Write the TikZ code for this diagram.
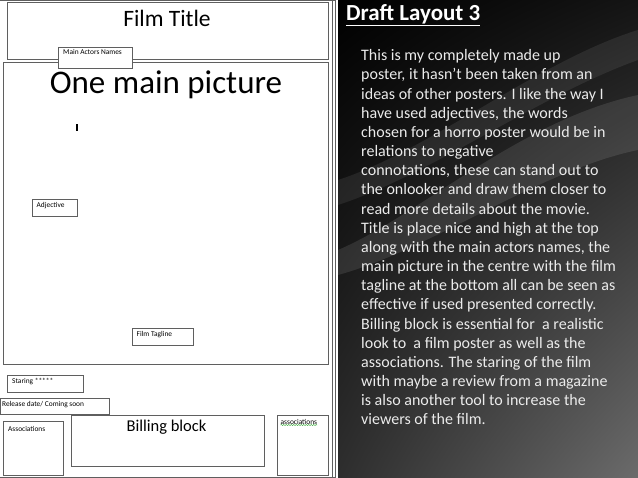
\documentclass[tikz,border=0pt]{standalone}
\usepackage{fontspec}
\setmainfont{Carlito}
\usetikzlibrary{shadings,decorations.pathmorphing}
\definecolor{boxgray}{RGB}{95,95,95}
\definecolor{squiggle}{RGB}{60,170,60}
\begin{document}
\begin{tikzpicture}[x=1pt,y=-1pt]
        \tikzstyle{blk} = [draw=boxgray, line width=0.9pt, fill=white, rectangle, inner sep=0pt]
        \tikzstyle{tiny} = [anchor=north west, inner sep=0pt, font=\fontsize{7.4}{8}\selectfont]
        \tikzstyle{body} = [anchor=north west, inner sep=0pt, align=left, text=white!92!black,
            font=\fontsize{16}{19.16}\selectfont]
        \useasboundingbox (0,0) rectangle (638,478);

        % backgrounds
        \fill[white] (0,0) rectangle (338,478);
        \shade[upper left=black, upper right=black!92, lower left=black!82, lower right=black!58]
            (338,0) rectangle (638,478);
        \fill[white, opacity=0.10] (338,250) .. controls (420,215) and (520,120) .. (638,95)
            -- (638,150) .. controls (540,170) and (430,250) .. (338,275) -- cycle;
        \fill[white, opacity=0.08] (338,180) .. controls (430,150) and (540,60) .. (638,30)
            -- (638,60) .. controls (540,95) and (430,175) .. (338,205) -- cycle;
        \draw[boxgray, line width=0.8pt] (0,0.5) -- (335.5,0.5);
        \draw[boxgray, line width=0.8pt] (332.5,0) -- (332.5,478);
        \draw[boxgray, line width=0.8pt] (335.5,0) -- (335.5,478);
        \draw[boxgray, line width=0.8pt] (0,477) -- (335.5,477);

        % poster layout
        \node[blk, minimum width=321pt, minimum height=57pt] (title) at (167.5,30.5) {};
        \node[font=\fontsize{23.5}{27}\selectfont] (titletxt) at (167,18.5) {Film Title};
        \node[blk, minimum width=325pt, minimum height=302pt] (picture) at (165.5,213) {};
        \node[font=\fontsize{33}{38}\selectfont] (picturetxt) at (166,85) {One main picture};
        \draw[black, line width=1.2pt] (77,124.5) -- (77,131.5);
        \node[blk, minimum width=74pt, minimum height=21pt] (actors) at (95,57.5) {};
        \node[tiny] (actorstxt) at (63,49.5) {Main Actors Names};
        \node[blk, minimum width=45pt, minimum height=17pt] (adjective) at (54.5,207.5) {};
        \node[tiny] (adjectivetxt) at (36.5,202) {Adjective};
        \node[blk, minimum width=61pt, minimum height=17pt] (tagline) at (162.5,336.5) {};
        \node[tiny] (taglinetxt) at (136.5,331) {Film Tagline};
        \node[blk, minimum width=76pt, minimum height=17pt] (staring) at (45,383.5) {};
        \node[tiny] (staringtxt) at (12,378.5) {Staring *****};
        \node[blk, minimum width=109pt, minimum height=16pt] (release) at (54.5,406) {};
        \node[tiny] (releasetxt) at (2,401) {Release date/ Coming soon};
        \node[blk, minimum width=60pt, minimum height=54pt] (assocleft) at (33,448) {};
        \node[tiny] (assoclefttxt) at (8,426) {Associations};
        \node[blk, minimum width=193pt, minimum height=51pt] (billing) at (167.5,440.5) {};
        \node[font=\fontsize{16.5}{20}\selectfont] (billingtxt) at (166.5,427) {Billing block};
        \node[blk, minimum width=51pt, minimum height=60pt] (assocright) at (302.5,445) {};
        \node[tiny] (assocrighttxt) at (280.5,419.5) {associations};
        \draw[squiggle, line width=0.4pt, decorate, decoration={snake, amplitude=0.6pt, segment length=2.5pt}]
            (assocrighttxt.south west) -- (assocrighttxt.south east);

        % notes on the right
        \node[anchor=north west, inner sep=0pt, text=white, font=\bfseries\fontsize{23}{27}\selectfont]
            (drafttitle) at (346,4.5) {\underline{Draft Layout 3}};
        \node[body] (notes) at (361,49.5) {This is my completely made up\\
            poster, it hasn’t been taken from an\\
            ideas of other posters. I like the way I\\
            have used adjectives, the words\\
            chosen for a horro poster would be in\\
            relations to negative\\
            connotations, these can stand out to\\
            the onlooker and draw them closer to\\
            read more details about the movie.\\
            Title is place nice and high at the top\\
            along with the main actors names, the\\
            main picture in the centre with the film\\
            tagline at the bottom all can be seen as\\
            effective if used presented correctly.\\
            Billing block is essential for\ \ a realistic\\
            look to\ \ a film poster as well as the\\
            associations. The staring of the film\\
            with maybe a review from a magazine\\
            is also another tool to increase the\\
            viewers of the film.};
    \end{tikzpicture}
\end{document}
